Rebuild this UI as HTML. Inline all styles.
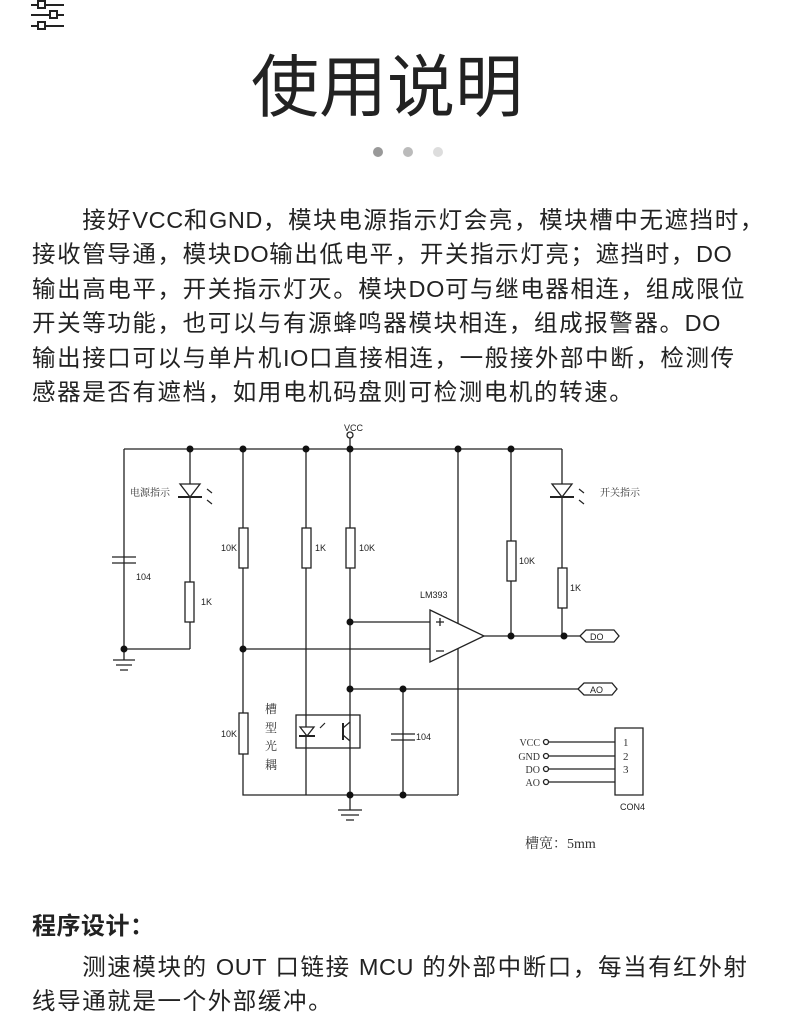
<!DOCTYPE html>
<html><head><meta charset="utf-8"><style>
body{margin:0;width:790px;height:1023px;background:#fff;position:relative;overflow:hidden;font-family:"Liberation Sans","Noto Sans CJK SC",sans-serif;color:#222}
.t{position:absolute;left:32px;width:760px;font-size:23.5px;letter-spacing:1.6px;line-height:34.5px;white-space:nowrap}
.l{letter-spacing:0.6px}
</style></head><body>
<svg style="position:absolute;left:0;top:0" width="790" height="1023">
<g stroke="#222" stroke-width="2" fill="#fff">
<line x1="31" y1="5" x2="64" y2="5"/><line x1="31" y1="15" x2="64" y2="15"/><line x1="31" y1="26" x2="64" y2="26"/>
<rect x="38" y="1" width="7" height="7"/><rect x="50" y="11" width="7" height="7"/><rect x="38" y="22" width="7" height="7"/>
</g>
<circle cx="378" cy="152" r="5" fill="#999"/><circle cx="408" cy="152" r="5" fill="#bbb"/><circle cx="438" cy="152" r="5" fill="#ddd"/>
<g stroke="#222" stroke-width="1.3" fill="none">
<path d="M124 449H562M124 449V649H190M190 449V649M243 449V795H458M306 449V795M350 449V795M458 449V795M562 449V636"/>
<path d="M243 649H430M350 622H430M350 689H580M403 689V795M484 636H580M511 449V636"/>
<path d="M112 557H136M112 563H136"/>
<path d="M391 734H415M391 740H415"/>
<path d="M430 610L484 636L430 662Z" fill="#fff"/>
<path d="M436 622h8M440 618v8M436 651h8"/>
<path d="M580 636l6 -6h28l5 6l-5 6h-28z" fill="#fff"/>
<path d="M578 689l6 -6h28l5 6l-5 6h-28z" fill="#fff"/>
<path d="M350 437V449"/><circle cx="350" cy="435" r="3" fill="#fff"/>
<rect x="296" y="715" width="64" height="33" fill="none"/>
<path d="M615 728h28v67h-28zM549 742H615M549 756H615M549 769H615M549 782H615"/>
<circle cx="546" cy="742" r="2.5" fill="#fff"/><circle cx="546" cy="756" r="2.5" fill="#fff"/><circle cx="546" cy="769" r="2.5" fill="#fff"/><circle cx="546" cy="782" r="2.5" fill="#fff"/>
<path d="M113 660h22M116 665h16M120 670h8M338 810h24M341 815h18M346 820h8"/>
<path d="M124 649V660M350 795V810"/>
</g>
<g fill="#fff" stroke="#222" stroke-width="1.3">
<rect x="185" y="582" width="9" height="40"/><rect x="239" y="528" width="9" height="40"/><rect x="302" y="528" width="9" height="40"/><rect x="346" y="528" width="9" height="40"/>
<rect x="507" y="541" width="9" height="40"/><rect x="558" y="568" width="9" height="40"/><rect x="239" y="713" width="9" height="41"/>
<path d="M180 484h20l-10 13z"/><path d="M552 484h20l-10 13z"/>
<path d="M300 727h14l-7 9z"/>
</g>
<g stroke="#222" stroke-width="2"><path d="M178 497h24M550 497h24M299 736h16M343 723v17"/></g>
<g stroke="#222" stroke-width="1.2" fill="none"><path d="M207 489l5 4M207 500l5 4M579 489l5 4M579 500l5 4M320 728l5 -5M343 728l7 -6M343 735l7 6"/></g>
<g fill="#111">
<circle cx="190" cy="449" r="3.5"/><circle cx="243" cy="449" r="3.5"/><circle cx="306" cy="449" r="3.5"/><circle cx="350" cy="449" r="3.5"/><circle cx="458" cy="449" r="3.5"/><circle cx="511" cy="449" r="3.5"/>
<circle cx="124" cy="649" r="3.5"/><circle cx="243" cy="649" r="3.5"/><circle cx="350" cy="622" r="3.5"/><circle cx="350" cy="689" r="3.5"/><circle cx="403" cy="689" r="3.5"/>
<circle cx="350" cy="795" r="3.5"/><circle cx="403" cy="795" r="3.5"/><circle cx="511" cy="636" r="3.5"/><circle cx="564" cy="636" r="3.5"/>
</g>
<g font-family="Liberation Sans Narrow, Liberation Sans, sans-serif" font-size="9" fill="#222">
<text x="344" y="431">VCC</text><text x="136" y="580">104</text><text x="201" y="605">1K</text>
<text x="221" y="551">10K</text><text x="315" y="551">1K</text><text x="359" y="551">10K</text>
<text x="519" y="564">10K</text><text x="570" y="591">1K</text><text x="420" y="598">LM393</text>
<text x="590" y="640">DO</text><text x="590" y="693">AO</text><text x="416" y="740">104</text>
<text x="221" y="737">10K</text><text x="620" y="810">CON4</text>
</g>
<g font-family="Liberation Serif, Noto Serif CJK SC, serif" font-size="10" fill="#333">
<text x="130" y="496">电源指示</text><text x="600" y="496">开关指示</text>
<text x="265" y="713" font-size="12">槽</text><text x="265" y="732" font-size="12">型</text><text x="265" y="750" font-size="12">光</text><text x="265" y="769" font-size="12">耦</text>
<text x="540" y="746" text-anchor="end">VCC</text><text x="540" y="760" text-anchor="end">GND</text><text x="540" y="773" text-anchor="end">DO</text><text x="540" y="786" text-anchor="end">AO</text>
<text x="623" y="746" font-size="11">1</text><text x="623" y="760" font-size="11">2</text><text x="623" y="773" font-size="11">3</text>
<text x="525" y="848" font-size="14">槽宽：5mm</text>
</g>
</svg>
<div style="position:absolute;left:-8px;width:790px;top:48px;text-align:center;font-size:68px;line-height:80px;color:#222">使用说明</div>
<div class="t" style="top:203px">　　接好<span class="l">VCC</span>和<span class="l">GND</span>，模块电源指示灯会亮，模块槽中无遮挡时，</div>
<div class="t" style="top:237px">接收管导通，模块<span class="l">DO</span>输出低电平，开关指示灯亮；遮挡时，<span class="l">DO</span></div>
<div class="t" style="top:272px">输出高电平，开关指示灯灭。模块<span class="l">DO</span>可与继电器相连，组成限位</div>
<div class="t" style="top:306px">开关等功能，也可以与有源蜂鸣器模块相连，组成报警器。<span class="l">DO</span></div>
<div class="t" style="top:341px">输出接口可以与单片机<span class="l">IO</span>口直接相连，一般接外部中断，检测传</div>
<div class="t" style="top:375px">感器是否有遮档，如用电机码盘则可检测电机的转速。</div>
<div class="t" style="top:910px;font-weight:bold;font-size:24px;letter-spacing:0.5px">程序设计：</div>
<div class="t" style="top:950px">　　测速模块的 <span class="l">OUT</span> 口链接 <span class="l">MCU</span> 的外部中断口，每当有红外射</div>
<div class="t" style="top:984px">线导通就是一个外部缓冲。</div>
</body></html>
